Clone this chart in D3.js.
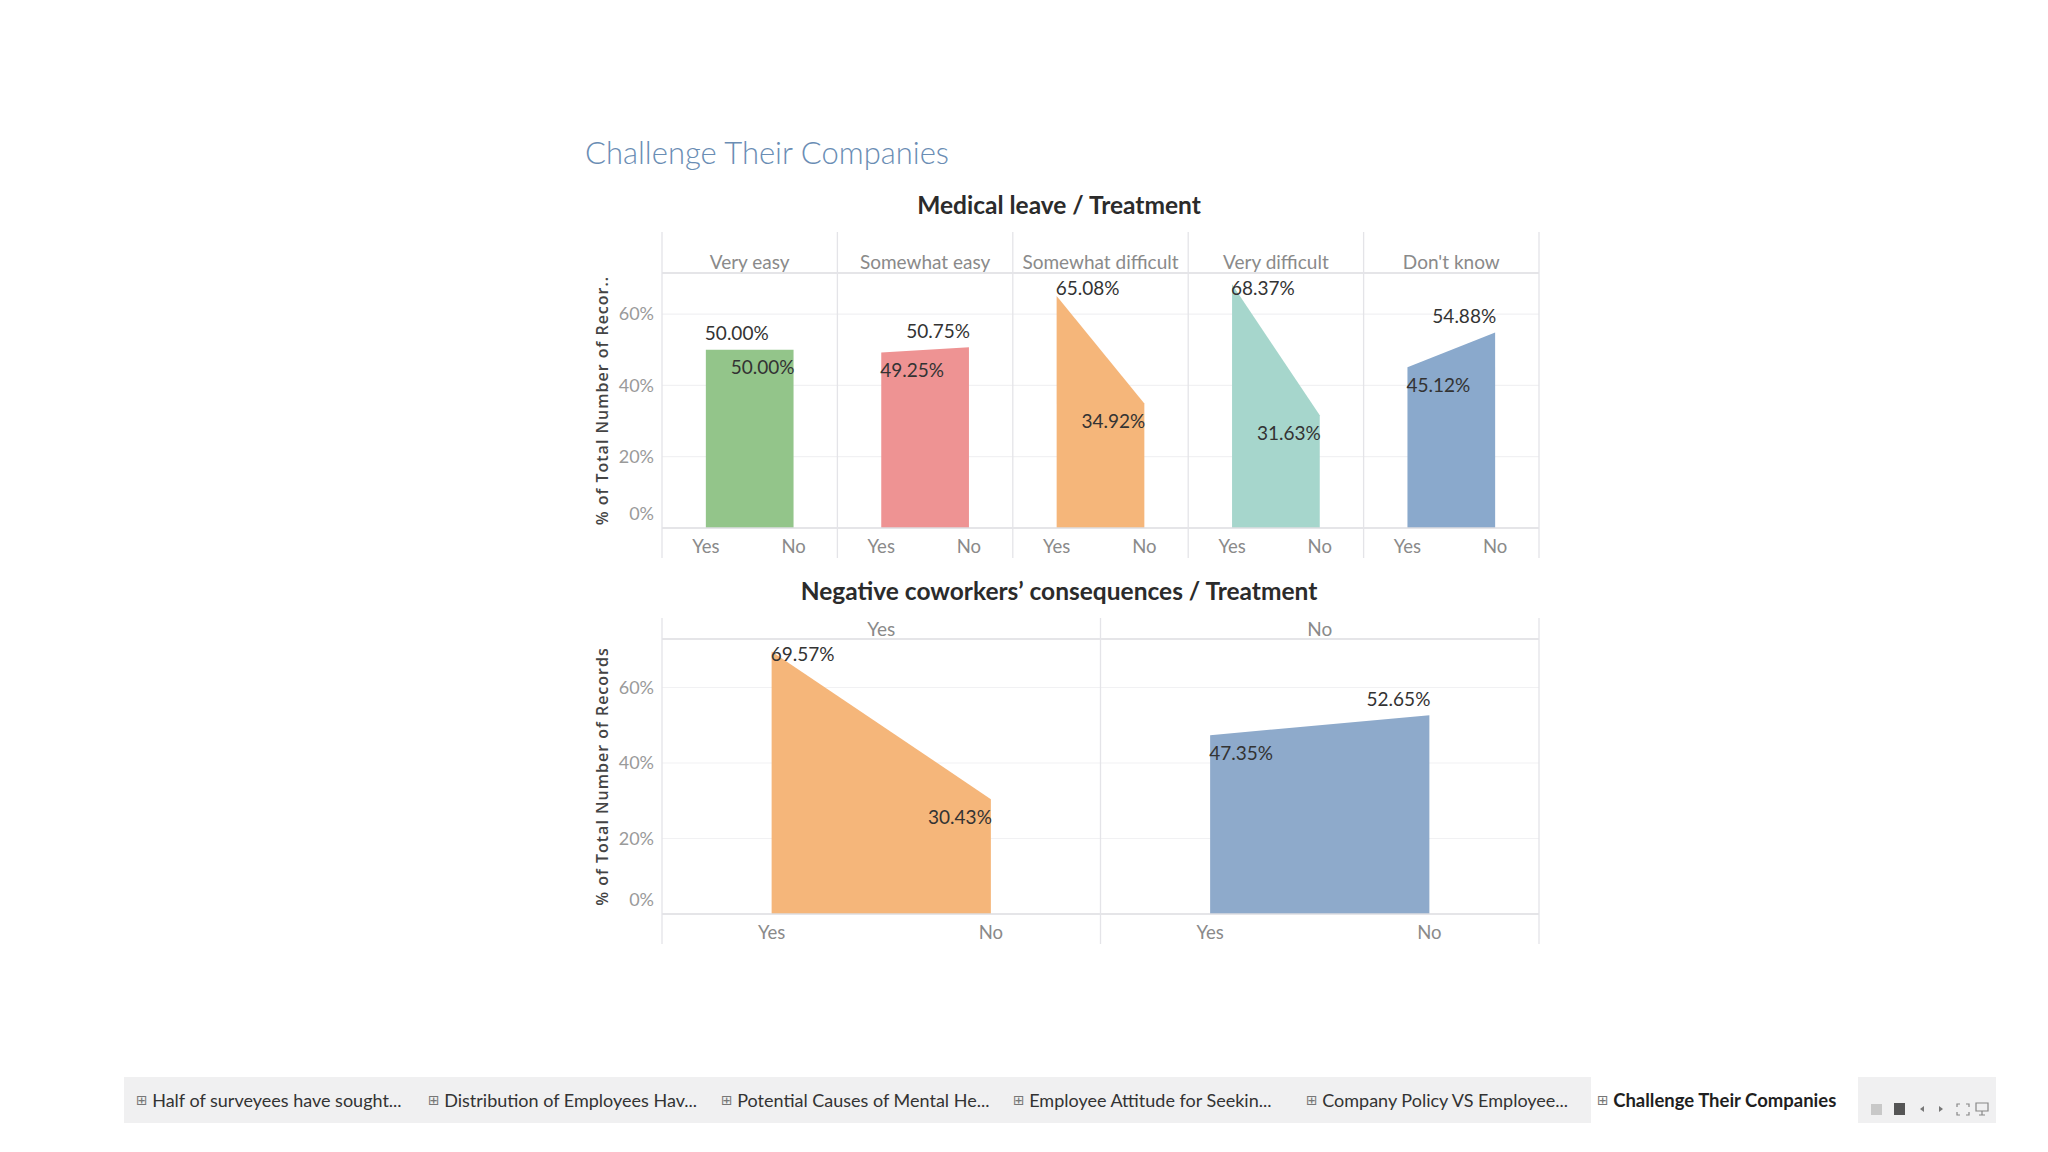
<!DOCTYPE html>
<html>
<head>
<meta charset="utf-8">
<script src="https://cdn.jsdelivr.net/npm/d3@7"></script>
<style>
  html, body { margin: 0; padding: 0; background: #ffffff; }
  svg { display: block; }
</style>
</head>
<body>
<svg id="chart" width="2048" height="1152"></svg>
<script>
// ---------------- DATA ----------------
const dashboardTitle = "Challenge Their Companies";
const treatmentLabels = ["Yes", "No"];
const yTicks = [0, 0.2, 0.4, 0.6];

const medicalTitle = "Medical leave / Treatment";
const medicalCategories = ["Very easy", "Somewhat easy", "Somewhat difficult", "Very difficult", "Don't know"];
const medicalYes = [0.5000, 0.4925, 0.6508, 0.6837, 0.4512];
const medicalNo  = [0.5000, 0.5075, 0.3492, 0.3163, 0.5488];
const medicalColors = ["#93c58a", "#ee9393", "#f5b67a", "#a6d6cc", "#8aa9cc"];
const medicalAxisTitle = "% of Total Number of Recor..";

const coworkerTitle = "Negative coworkers\u2019 consequences / Treatment";
const coworkerCategories = ["Yes", "No"];
const coworkerYes = [0.6957, 0.4735];
const coworkerNo  = [0.3043, 0.5265];
const coworkerColors = ["#f5b67a", "#8eaacb"];
const coworkerAxisTitle = "% of Total Number of Records";

const tabLabels = [
  "Half of surveyees have sought...",
  "Distribution of Employees Hav...",
  "Potential Causes of Mental He...",
  "Employee Attitude for Seekin...",
  "Company Policy VS Employee...",
  "Challenge Their Companies"
];
const activeTab = 5;

// ---------------- DRAW ----------------
const svg = d3.select("#chart");
const FONT = "Lato, 'Open Sans', sans-serif";

svg.append("rect").attr("width", 2048).attr("height", 1152).attr("fill", "#ffffff");

svg.append("text")
  .attr("x", 585).attr("y", 164)
  .attr("font-family", FONT).attr("font-size", 31).attr("font-weight", 300)
  .attr("fill", "#6a8db4")
  .text(dashboardTitle);

function drawPanel(cfg) {
  const g = svg.append("g");
  const x = d3.scaleBand().domain(cfg.categories).range([cfg.x0, cfg.x1]);
  const xi = d3.scalePoint().domain(treatmentLabels).range([0, x.bandwidth()]).padding(0.5);
  const y = d3.scaleLinear().domain([0, cfg.yMax]).range([cfg.baseline, cfg.headerBottom]);

  // title
  g.append("text")
    .attr("x", 1059).attr("y", cfg.titleY)
    .attr("text-anchor", "middle").attr("dominant-baseline", "central")
    .attr("font-family", FONT).attr("font-size", 24.5).attr("font-weight", 700)
    .attr("fill", "#2b2b2b")
    .text(cfg.title);

  // gridlines
  g.selectAll(".grid").data(yTicks.filter(t => t > 0)).enter().append("line")
    .attr("x1", cfg.x0).attr("x2", cfg.x1)
    .attr("y1", d => y(d)).attr("y2", d => y(d))
    .attr("stroke", "#f1f1f3").attr("stroke-width", 1.2);

  // areas
  cfg.categories.forEach((c, i) => {
    const pts = [
      { t: "Yes", v: cfg.yes[i] },
      { t: "No", v: cfg.no[i] }
    ];
    const area = d3.area()
      .x(d => x(c) + xi(d.t))
      .y0(y(0))
      .y1(d => y(d.v));
    g.append("path").datum(pts)
      .attr("d", area)
      .attr("fill", cfg.colors[i]);

    // labels
    const yesAbove = cfg.yes[i] >= cfg.no[i];
    const minY = cfg.headerBottom + 14;
    const labY = (v, above) => above ? Math.max(minY, y(v) - 17) : y(v) + 17;
    g.append("text")
      .attr("x", x(c) + xi("Yes") - 1)
      .attr("y", labY(cfg.yes[i], yesAbove))
      .attr("dominant-baseline", "central")
      .attr("font-family", FONT).attr("font-size", 19)
      .attr("fill", "#333")
      .text(d3.format(".2%")(cfg.yes[i]));
    g.append("text")
      .attr("x", x(c) + xi("No") + 1)
      .attr("y", labY(cfg.no[i], !yesAbove))
      .attr("text-anchor", "end")
      .attr("dominant-baseline", "central")
      .attr("font-family", FONT).attr("font-size", 19)
      .attr("fill", "#333")
      .text(d3.format(".2%")(cfg.no[i]));

    // header label
    g.append("text")
      .attr("x", x(c) + x.bandwidth() / 2).attr("y", cfg.headerLabelY)
      .attr("text-anchor", "middle").attr("dominant-baseline", "central")
      .attr("font-family", FONT).attr("font-size", 19)
      .attr("fill", "#8a8a8a")
      .text(c);

    // x labels
    treatmentLabels.forEach(t => {
      g.append("text")
        .attr("x", x(c) + xi(t)).attr("y", cfg.xLabelY)
        .attr("text-anchor", "middle").attr("dominant-baseline", "central")
        .attr("font-family", FONT).attr("font-size", 18.5)
        .attr("fill", "#8a8a8a")
        .text(t);
    });
  });

  // header line and baseline
  g.append("line").attr("x1", cfg.x0).attr("x2", cfg.x1)
    .attr("y1", cfg.headerBottom).attr("y2", cfg.headerBottom)
    .attr("stroke", "#dcdce0").attr("stroke-width", 1.5);
  g.append("line").attr("x1", cfg.x0).attr("x2", cfg.x1)
    .attr("y1", y(0)).attr("y2", y(0))
    .attr("stroke", "#dcdce0").attr("stroke-width", 1.5);

  // vertical dividers
  const divs = [cfg.x0].concat(cfg.categories.map(c => x(c) + x.bandwidth()));
  g.selectAll(".div").data(divs).enter().append("line")
    .attr("x1", d => d).attr("x2", d => d)
    .attr("y1", cfg.headerTop).attr("y2", cfg.panelBottom)
    .attr("stroke", "#e4e4e8").attr("stroke-width", 1.3);

  // y axis
  const axis = d3.axisLeft(y).tickValues(yTicks).tickFormat(d3.format(".0%")).tickSize(0).tickPadding(8);
  const ag = g.append("g").attr("transform", `translate(${cfg.x0},0)`).call(axis);
  ag.select(".domain").remove();
  ag.selectAll("text")
    .attr("font-family", FONT).attr("font-size", 18).attr("fill", "#9a9a9a")
    .attr("dy", d => d === 0 ? "-0.45em" : "0.32em");

  // axis title
  const cy = (cfg.headerBottom + cfg.baseline) / 2;
  g.append("text")
    .attr("transform", `translate(${cfg.x0 - 60},${cy}) rotate(-90)`)
    .attr("text-anchor", "middle").attr("dominant-baseline", "central")
    .attr("font-family", "'Open Sans', sans-serif").attr("font-size", 16)
    .attr("font-weight", 600).attr("letter-spacing", 1)
    .attr("fill", "#444")
    .text(cfg.axisTitle);
}

drawPanel({
  x0: 662, x1: 1539,
  headerTop: 232, headerBottom: 273, baseline: 528, panelBottom: 558,
  yMax: 0.7155,
  categories: medicalCategories, yes: medicalYes, no: medicalNo, colors: medicalColors,
  title: medicalTitle, titleY: 204, headerLabelY: 261, xLabelY: 546,
  axisTitle: medicalAxisTitle
});

drawPanel({
  x0: 662, x1: 1539,
  headerTop: 618, headerBottom: 639, baseline: 914, panelBottom: 944,
  yMax: 0.7285,
  categories: coworkerCategories, yes: coworkerYes, no: coworkerNo, colors: coworkerColors,
  title: coworkerTitle, titleY: 590, headerLabelY: 628, xLabelY: 932,
  axisTitle: coworkerAxisTitle
});

// ---------------- TAB BAR ----------------
const tabG = svg.append("g");
tabG.append("rect").attr("x", 124).attr("y", 1077).attr("width", 1467).attr("height", 46).attr("fill", "#f0f0f1");
tabG.append("rect").attr("x", 1591).attr("y", 1077).attr("width", 264).attr("height", 46).attr("fill", "#ffffff");
tabG.append("rect").attr("x", 1858).attr("y", 1077).attr("width", 138).attr("height", 46).attr("fill", "#f0f0f1");

const tabX = [136, 428, 721, 1013, 1306, 1597];
tabLabels.forEach((t, i) => {
  const tg = tabG.append("text")
    .attr("x", tabX[i]).attr("y", 1100)
    .attr("dominant-baseline", "central")
    .attr("font-family", FONT).attr("font-size", i === activeTab ? 18.5 : 18)
    .attr("fill", i === activeTab ? "#1f1f1f" : "#333")
    .attr("font-weight", i === activeTab ? 700 : 400);
  tg.append("tspan").attr("font-family", "'DejaVu Sans'").attr("font-size", 14).attr("fill", "#777").attr("font-weight", 400).text("\u229e ");
  tg.append("tspan").text(t);
});

// control icons
tabG.append("rect").attr("x", 1871).attr("y", 1104).attr("width", 11).attr("height", 11).attr("fill", "#c8c8c8");
tabG.append("rect").attr("x", 1894).attr("y", 1103).attr("width", 11).attr("height", 12).attr("fill", "#555");
tabG.append("path").attr("d", "M1924,1106 L1920,1109 L1924,1112 Z").attr("fill", "#777");
tabG.append("path").attr("d", "M1939,1106 L1943,1109 L1939,1112 Z").attr("fill", "#777");
tabG.append("path").attr("d", "M1957,1107 v-3 h3 M1966,1104 h3 v3 M1969,1112 v3 h-3 M1960,1115 h-3 v-3")
  .attr("fill", "none").attr("stroke", "#888").attr("stroke-width", 1.2);
tabG.append("path").attr("d", "M1976,1103 h12 v8 h-12 Z M1982,1111 v4 M1979,1115 h6")
  .attr("fill", "none").attr("stroke", "#888").attr("stroke-width", 1.2);
</script>
</body>
</html>
